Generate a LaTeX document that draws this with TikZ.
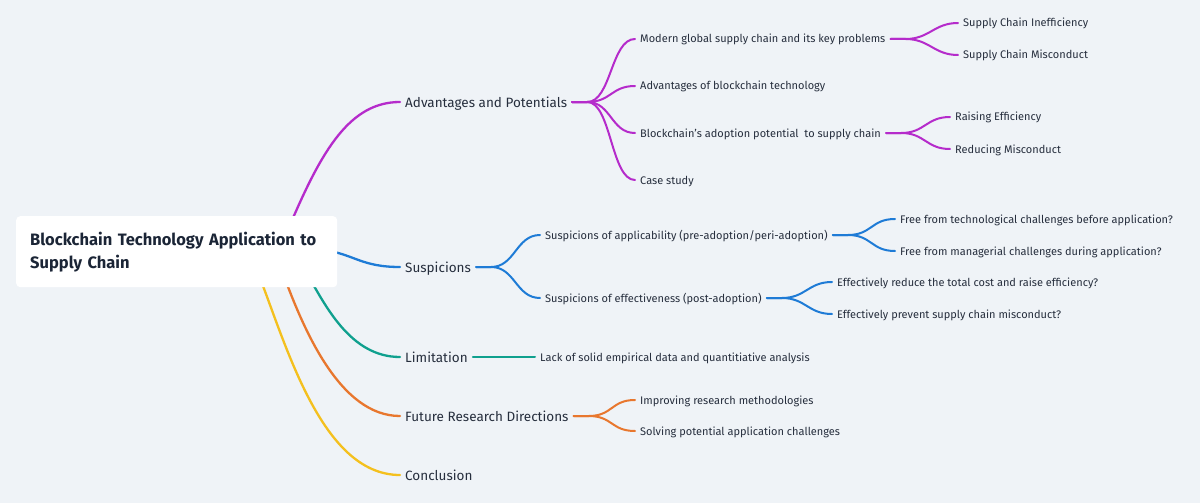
\documentclass[tikz,border=0pt]{standalone}
\usepackage{fontspec}
\setmainfont{Fira Sans}
\definecolor{bgc}{HTML}{EFF3F7}
\definecolor{txt}{HTML}{262E3D}
\definecolor{roottxt}{HTML}{1B2536}
\definecolor{cpur}{HTML}{B52BCB}
\definecolor{cblu}{HTML}{1E7BD6}
\definecolor{ctea}{HTML}{0FA08E}
\definecolor{cora}{HTML}{E8772E}
\definecolor{cyel}{HTML}{F4C01E}
\tikzset{
  lab/.style={anchor=west, inner xsep=5pt, inner ysep=0pt, text=txt,
    text height=8pt, text depth=0pt, font=\fontsize{11}{13}\selectfont},
  mainlab/.style={lab, text height=10pt, font=\fontsize{13.5}{16}\selectfont},
  ln/.style={line width=2.3pt, line cap=round},
  sub/.style={line width=2pt, line cap=round},
  fan/.style={to path={-- ++(15,0) .. controls +(24,0) and +(-24,0) .. (\tikztotarget)}}
}
\begin{document}
\begin{tikzpicture}[x=1pt,y=-1pt]
\useasboundingbox (0,0) rectangle (1200,503);
\fill[bgc] (0,0) rectangle (1200,503);

% main branch labels
\node[mainlab] (adv) at (400,102) {Advantages and Potentials};
\node[mainlab] (sus) at (400,267) {Suspicions};
\node[mainlab] (lim) at (400,357) {Limitation};
\node[mainlab] (fut) at (400,416) {Future Research Directions};
\node[mainlab] (con) at (400,475) {Conclusion};

% start points of root curves (hidden under the root box)
\coordinate (rp) at (290,225);
\coordinate (rb) at (325,250);
\coordinate (rt) at (305,270);
\coordinate (ro) at (280,265);
\coordinate (ry) at (255,265);

\draw[ln,cpur] (rp) .. controls (322,150) and (350,102) .. (adv.west);
\draw[ln,cblu] (rb) .. controls (355,255) and (362,267) .. (sus.west);
\draw[ln,ctea] (rt) .. controls (325,305) and (350,357) .. (lim.west);
\draw[ln,cora] (ro) .. controls (303,330) and (340,416) .. (fut.west);
\draw[ln,cyel] (ry) .. controls (285,340) and (320,475) .. (con.west);

% root
\node[fill=white, rounded corners=4pt, anchor=north west, minimum width=321pt,
  minimum height=71pt, inner xsep=14pt, text width=293pt, align=left,
  text=roottxt, font=\bfseries\fontsize{16.5}{23}\selectfont] (root) at (16,216)
  {Blockchain Technology Application to\\Supply Chain};

% level 2
\node[lab] (m1) at (635,39) {Modern global supply chain and its key problems};
\node[lab] (m2) at (635,86) {Advantages of blockchain technology};
\node[lab] (m3) at (635,133) {Blockchain's adoption potential\ \ to supply chain};
\node[lab] (m4) at (635,180) {Case study};
\node[lab] (s1) at (540,235) {Suspicions of applicability (pre-adoption/peri-adoption)};
\node[lab] (s2) at (540,298) {Suspicions of effectiveness (post-adoption)};
\node[lab] (l1) at (535,357) {Lack of solid empirical data and quantitiative analysis};
\node[lab] (f1) at (635,400) {Improving research methodologies};
\node[lab] (f2) at (635,431) {Solving potential application challenges};

% level 3
\node[lab] (m1a) at (958,23) {Supply Chain Inefficiency};
\node[lab] (m1b) at (958,55) {Supply Chain Misconduct};
\node[lab] (m3a) at (950,117) {Raising Efficiency};
\node[lab] (m3b) at (950,149) {Reducing Misconduct};
\node[lab] (s1a) at (895,219) {Free from technological challenges before application?};
\node[lab] (s1b) at (895,251) {Free from managerial challenges during application?};
\node[lab] (s2a) at (832,282) {Effectively reduce the total cost and raise efficiency?};
\node[lab] (s2b) at (832,314) {Effectively prevent supply chain misconduct?};

% connectors
\foreach \c in {m1,m2,m3,m4} \draw[sub,cpur] (adv.east) to[fan] (\c.west);
\foreach \c in {m1a,m1b} \draw[sub,cpur] (m1.east) to[fan] (\c.west);
\foreach \c in {m3a,m3b} \draw[sub,cpur] (m3.east) to[fan] (\c.west);
\foreach \c in {s1,s2} \draw[sub,cblu] (sus.east) to[fan] (\c.west);
\foreach \c in {s1a,s1b} \draw[sub,cblu] (s1.east) to[fan] (\c.west);
\foreach \c in {s2a,s2b} \draw[sub,cblu] (s2.east) to[fan] (\c.west);
\draw[sub,ctea] (lim.east) -- (l1.west);
\foreach \c in {f1,f2} \draw[sub,cora] (fut.east) to[fan] (\c.west);
\end{tikzpicture}
\end{document}
